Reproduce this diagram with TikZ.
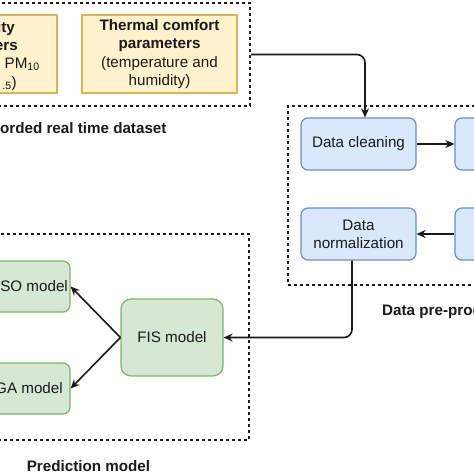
\documentclass[tikz,border=0pt]{standalone}
\usepackage{fontspec}
\setmainfont{Liberation Sans}
\usetikzlibrary{arrows.meta,calc}
\definecolor{yfill}{HTML}{FFF2CC}
\definecolor{ydraw}{HTML}{D6B656}
\definecolor{bfill}{HTML}{DAE8FC}
\definecolor{bdraw}{HTML}{6C8EBF}
\definecolor{gfill}{HTML}{D5E8D4}
\definecolor{gdraw}{HTML}{82B366}
\definecolor{ink}{HTML}{1A1A1A}
\begin{document}
\begin{tikzpicture}[x=1pt,y=-1pt,
  font=\fontsize{15.2}{18.3}\selectfont,
  group/.style={draw=ink,line width=1.6pt,dash pattern=on 3pt off 3pt,rectangle,inner sep=0pt},
  ybox/.style={draw=ydraw,fill=yfill,line width=1.2pt,rectangle,minimum width=155pt,minimum height=78pt,inner sep=0pt,align=center,text=ink},
  bbox/.style={draw=bdraw,fill=bfill,line width=1.2pt,rectangle,rounded corners=7pt,minimum width=115pt,minimum height=52pt,inner sep=0pt,align=center,text=ink},
  gbox/.style={draw=gdraw,fill=gfill,line width=1.2pt,rectangle,rounded corners=7pt,minimum width=82pt,minimum height=51pt,inner sep=0pt,align=center,text=ink},
  frag/.style={inner sep=0pt,text=ink},
  caption/.style={inner sep=0pt,text=ink,font=\fontsize{15.2}{18.3}\selectfont\bfseries},
  arr/.style={draw=ink,line width=1.6pt,-{Stealth[length=9pt,width=8pt]}}]
\useasboundingbox (0,0) rectangle (474,474);
\fill[white] (0,0) rectangle (474,474);
\clip (0,0) rectangle (474,474);

% groups
\node[group,minimum width=450pt,minimum height=103pt] (rec) at (25,54.5) {};
\node[group,minimum width=412pt,minimum height=179pt] (pre) at (494,195.5) {};
\node[group,minimum width=449pt,minimum height=206pt] (pred) at (24.5,337) {};

% recorded dataset
\node[ybox] (air) at (-20.5,54) {};
\node[frag,anchor=base east,font=\fontsize{15.2}{18.3}\selectfont\bfseries] (f1) at (15,32) {ity};
\node[frag,anchor=base east,font=\fontsize{15.2}{18.3}\selectfont\bfseries] (f2) at (18,50.3) {ers};
\node[frag,anchor=base east] (f3) at (40,68.5) {PM\textsubscript{10}};
\node[frag,anchor=base east] (f4) at (17,87) {\textsubscript{.5})};
\node[ybox] (thermal) at (159.5,54) {\textbf{Thermal comfort}\\\textbf{parameters}\\(temperature and\\humidity)};
\node[caption,anchor=base west] (reccap) at (-28,133.5) {Recorded real time dataset};

% pre-processing
\node[bbox] (clean) at (358.5,144) {Data cleaning};
\node[bbox] (r1) at (512.5,144) {};
\node[bbox] (norm) at (358.5,234) {Data\\normalization};
\node[bbox] (r2) at (512.5,234) {};
\node[caption,anchor=base west] (precap) at (382,315.5) {Data pre-processing};

% prediction
\node[gbox,minimum width=102pt,minimum height=77pt,rounded corners=10pt] (fis) at (172,337.5) {FIS model};
\node[gbox] (pso) at (29,286.5) {PSO model};
\node[gbox] (ga) at (29,388.5) {GA model};
\node[caption,anchor=base] (predcap) at (88.5,471.5) {Prediction model};

% connectors
\draw[arr,rounded corners=8pt] (rec.east) -| ([xshift=6.5pt]clean.north);
\draw[arr] (clean.east) -- (r1.west);
\draw[arr] (r2.west) -- (norm.east);
\draw[arr,rounded corners=8pt] ([xshift=-6.5pt]norm.south) |- (fis.east);
\draw[arr] (fis.west) -- (pso.east);
\draw[arr] (fis.west) -- (ga.east);
\end{tikzpicture}
\end{document}
